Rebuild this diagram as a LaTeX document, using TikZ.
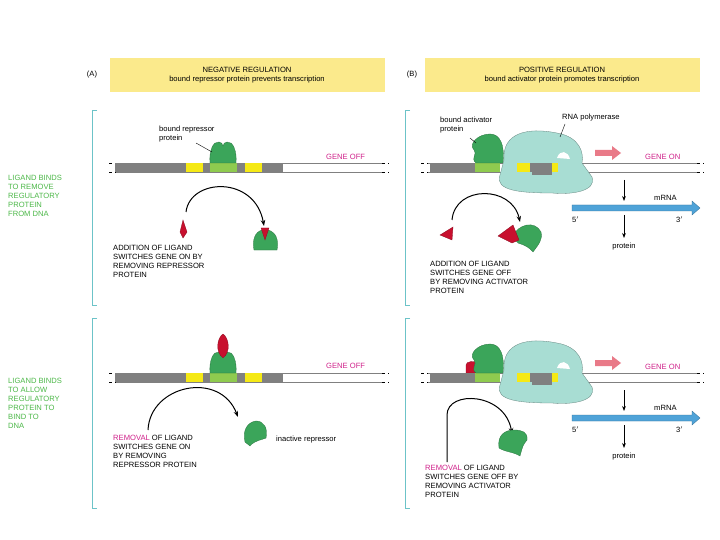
\documentclass[tikz,border=0pt]{standalone}
\usepackage{fontspec}
\setmainfont{Liberation Sans}
\usetikzlibrary{arrows.meta}
\definecolor{hdr}{HTML}{FBEA8C}
\definecolor{gr}{HTML}{3BA55A}
\definecolor{lgr}{HTML}{8FCB4F}
\definecolor{dgrey}{HTML}{808080}
\definecolor{yel}{HTML}{F5E915}
\definecolor{mag}{HTML}{D0208A}
\definecolor{lig}{HTML}{C8102E}
\definecolor{pol}{HTML}{A8DDD3}
\definecolor{brk}{HTML}{6CC3C8}
\definecolor{lbl}{HTML}{4CB848}
\definecolor{mrna}{HTML}{4FA3D8}
\definecolor{pink}{HTML}{E97A88}
\tikzset{
 x=1pt,y=-1pt,
 txt/.style={font=\fontsize{7.6}{9}\selectfont,align=left,inner sep=0pt},
 capt/.style={txt,anchor=north west},
 hbox/.style={fill=hdr,minimum width=275,minimum height=34,align=center,font=\fontsize{7.6}{9}\selectfont},
 arc/.style={-{Stealth[length=6pt]},line width=1pt},
 darr/.style={-{Stealth[length=5pt]},line width=0.7pt},
 prot/.style={fill=gr,draw=gr!70!black,line width=0.3pt},
 liga/.style={fill=lig,draw=lig!70!black,line width=0.3pt},
 bracket/.style={draw=brk,line width=0.6pt}
}
\newcommand{\dnastrand}[3]{% x0, x1, y
 \draw[dashed,line width=0.5pt] (#1-4,#3) -- (#1+3,#3) (#1-4,#3+9) -- (#1+3,#3+9);
 \draw[dashed,line width=0.5pt] (#2-3,#3) -- (#2+4,#3) (#2-3,#3+9) -- (#2+4,#3+9);
 \draw[line width=0.5pt,dgrey] (#1+3,#3) -- (#2-3,#3) (#1+3,#3+9) -- (#2-3,#3+9);}
\newcommand{\repr}[2]{% bilobed repressor at top center
 \draw[prot] (#1-13,#2) .. controls (#1-14,#2-12) and (#1-10,#2-22) .. (#1-4,#2-21) .. controls (#1-1,#2-20) .. (#1,#2-17)
 .. controls (#1+1,#2-20) .. (#1+4,#2-21) .. controls (#1+10,#2-22) and (#1+14,#2-12) .. (#1+13,#2) -- cycle;}
\newcommand{\polym}[2]{% polymerase, reference point = left on DNA top
 \fill[pol,draw=pol!60!black,line width=0.3pt] (#1+2,#2-3) .. controls (#1,#2-30) and (#1+25,#2-36) .. (#1+55,#2-30)
 .. controls (#1+78,#2-26) and (#1+82,#2-10) .. (#1+80,#2) -- (#1+90,#2+14) .. controls (#1+95,#2+28) and (#1+70,#2+32) .. (#1+50,#2+30)
 .. controls (#1+20,#2+30) and (#1-8,#2+28) .. (#1-2,#2+12) .. controls (#1,#2+5) .. (#1+2,#2-3) -- cycle;
 \fill[white] (#1+55,#2-5) .. controls (#1+58,#2-14) and (#1+66,#2-12) .. (#1+68,#2-4) -- cycle;
 \fill[yel] (#1+15,#2) rectangle (#1+28,#2+9);
 \fill[dgrey] (#1+28,#2) rectangle (#1+50,#2+9);
 \fill[yel] (#1+50,#2) rectangle (#1+56,#2+9);
 \fill[dgrey] (#1+30,#2+9) rectangle (#1+50,#2+12);}
\begin{document}
\begin{tikzpicture}
\useasboundingbox[fill=white] (0,0) rectangle (720,540);
% headers
\node[txt] (la) at (92,75) {(A)};
\node[hbox] (ha) at (247,75) {NEGATIVE REGULATION\\bound repressor protein prevents transcription};
\node[txt] (lb) at (412,75) {(B)};
\node[hbox] (hb) at (562,75) {POSITIVE REGULATION\\bound activator protein promotes transcription};
% brackets
\foreach \x in {92,405}{
 \draw[bracket] (\x+5,110) -- (\x,110) -- (\x,305) -- (\x+5,305);
 \draw[bracket] (\x+5,318) -- (\x,318) -- (\x,508) -- (\x+5,508);}
\node[capt,text=lbl] (l1) at (8,175) {LIGAND BINDS\\TO REMOVE\\REGULATORY\\PROTEIN\\FROM DNA};
\node[capt,text=lbl] (l2) at (8,378) {LIGAND BINDS\\TO ALLOW\\REGULATORY\\PROTEIN TO\\BIND TO\\DNA};

% ===== A top
\dnastrand{113}{385}{163}
\fill[dgrey] (115,163) rectangle (283,172);
\fill[yel] (186,163) rectangle (203,172);
\fill[lgr] (210,163) rectangle (237,172);
\fill[yel] (245,163) rectangle (262,172);
\repr{223}{163}
\node[capt] (br) at (159,126) {bound repressor\\protein};
\draw[line width=0.4pt] (196,143) -- (212,152);
\node[txt,text=mag,anchor=west] (g1) at (326,157) {GENE OFF};
\coordinate (a1s) at (186,212);
\coordinate (a1e) at (264,226);
\draw[arc] (a1s) .. controls (190,178) and (255,175) .. (a1e);
\draw[liga] (183,220) -- (187,232) -- (183,238) -- (180,232) -- cycle;
\draw[prot] (254,250) .. controls (252,240) and (255,232) .. (262,230) -- (265,238) -- (268,230) .. controls (276,232) and (279,240) .. (277,250) -- cycle;
\draw[liga] (261,228) -- (269,228) -- (265,240) -- cycle;
\node[capt] (t1) at (113,245) {ADDITION OF LIGAND\\SWITCHES GENE ON BY\\REMOVING REPRESSOR\\PROTEIN};

% ===== A bottom
\dnastrand{113}{385}{373}
\fill[dgrey] (115,373) rectangle (283,382);
\fill[yel] (186,373) rectangle (203,382);
\fill[lgr] (210,373) rectangle (237,382);
\fill[yel] (245,373) rectangle (262,382);
\repr{223}{373}
\draw[liga] (223,358) .. controls (215,352) and (217,338) .. (223,334) .. controls (229,338) and (231,352) .. (223,358) -- cycle;
\node[txt,text=mag,anchor=west] (g2) at (326,366) {GENE OFF};
\coordinate (a2s) at (148,430);
\coordinate (a2e) at (238,417);
\draw[arc] (a2s) .. controls (150,385) and (220,370) .. (a2e);
\draw[prot] (245,442) .. controls (242,430) and (248,422) .. (256,421) .. controls (264,421) and (268,428) .. (266,438) .. controls (262,440) and (255,440) .. (250,446) -- cycle;
\node[txt,anchor=west] (ir) at (276,440) {inactive repressor};
\node[capt] (t2) at (113,435) {\textcolor{mag}{REMOVAL} OF LIGAND\\SWITCHES GENE ON\\BY REMOVING\\REPRESSOR PROTEIN};

% ===== B top and bottom
\draw[liga] (466,373) -- (466,365) .. controls (466,361) and (474,361) .. (480,362) -- (482,373) -- cycle;
\foreach \dy in {0,210}{
\begin{scope}[yshift=-\dy]
\dnastrand{425}{700}{163}
\fill[dgrey] (430,163) rectangle (475,172);
\fill[lgr] (475,163) rectangle (500,172);
\draw[prot] (476,163) .. controls (470,158) and (478,154) .. (474,150) .. controls (468,144) and (478,134) .. (490,134) .. controls (500,134) and (505,145) .. (503,163) -- cycle;
\polym{502}{163}
\draw[fill=pink,draw=none] (595,150) -- (612,150) -- (612,146) -- (621,153) -- (612,160) -- (612,156) -- (595,156) -- cycle;
\draw[darr] (624,180) -- (624,201);
\fill[mrna,draw=mrna!70!black,line width=0.3pt] (572,205) -- (692,205) -- (692,201) -- (700,208) -- (692,215) -- (692,211) -- (572,211) -- cycle;
\draw[darr] (624,215) -- (624,238);
\end{scope}}
\node[txt,text=mag,anchor=west] (g3) at (645,157) {GENE ON};
\node[txt,text=mag,anchor=west] (g4) at (645,367) {GENE ON};
\foreach \y/\n in {0/a,210/b}{
 \node[txt,anchor=west] (m\n) at (654,\y+198) {mRNA};
 \node[txt,anchor=west] (f\n) at (572,\y+220) {5$'$};
 \node[txt,anchor=west] (t\n) at (676,\y+220) {3$'$};
 \node[txt] (p\n) at (624,\y+247) {protein};}
\node[capt] (ba) at (440,117) {bound activator\\protein};
\draw[line width=0.4pt] (470,138) -- (476,143);
\node[txt,anchor=west] (rp) at (562,118) {RNA polymerase};
\draw[line width=0.4pt] (565,124) -- (560,137);
\coordinate (b1s) at (452,220);
\coordinate (b1e) at (520,222);
\draw[arc] (b1s) .. controls (455,185) and (512,185) .. (b1e);
\draw[liga] (440,235) -- (453,227) -- (452,240) -- cycle;
\draw[prot] (512,237) .. controls (518,224) and (535,220) .. (541,232) .. controls (543,240) and (538,245) .. (533,252) .. controls (530,248) and (525,245) .. (518,243) -- cycle;
\draw[liga] (498,236) -- (513,225) -- (519,240) -- (512,243) -- cycle;
\node[capt] (t3) at (430,261) {ADDITION OF LIGAND\\SWITCHES GENE OFF\\BY REMOVING ACTIVATOR\\PROTEIN};
\coordinate (b2s) at (447,462);
\coordinate (b2e) at (512,434);
\draw[arc] (b2s) -- (447,415) .. controls (447,390) and (505,392) .. (b2e);
\draw[prot] (499,448) .. controls (497,435) and (505,430) .. (514,430) .. controls (522,430) and (528,432) .. (527,440) .. controls (523,445) .. (520,456) .. controls (514,452) and (505,452) .. (499,448) -- cycle;
\node[capt] (t4) at (425,465) {\textcolor{mag}{REMOVAL} OF LIGAND\\SWITCHES GENE OFF BY\\REMOVING ACTIVATOR\\PROTEIN};
\end{tikzpicture}
\end{document}
